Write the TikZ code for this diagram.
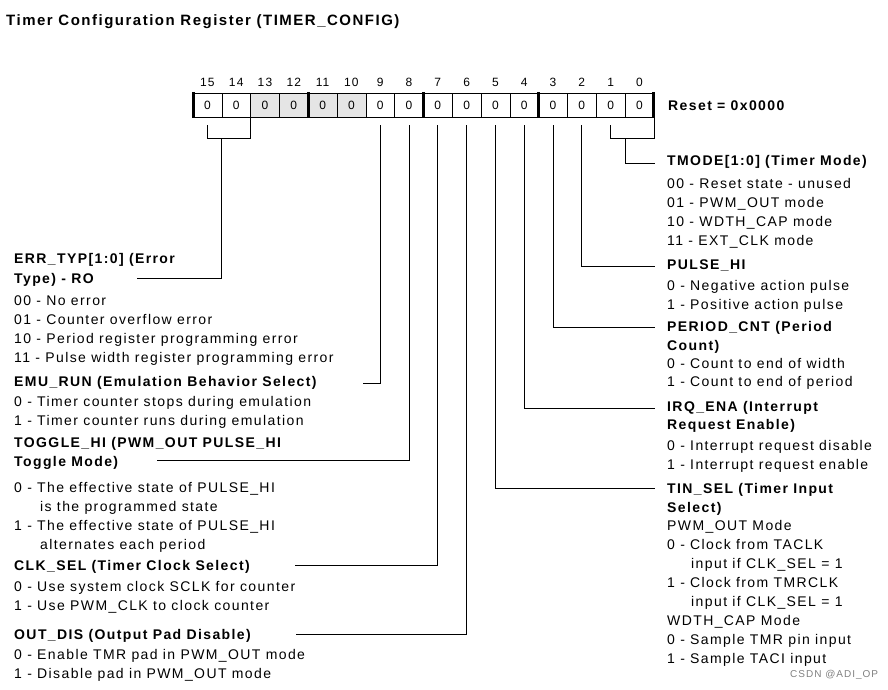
\documentclass[tikz,border=0pt]{standalone}
\usepackage{fontspec}
\setmainfont{Liberation Sans}[LetterSpace=10]
\usetikzlibrary{positioning}
\begin{document}
\begin{tikzpicture}[
    x=1pt, y=-1pt,
    cell/.style={draw, minimum width=28.8pt, minimum height=24pt, inner sep=0pt, font=\fontsize{12}{12}\selectfont},
    bitno/.style={font=\fontsize{12}{12}\selectfont},
    txt/.style={anchor=base west, inner sep=0pt, font=\fontsize{14}{14}\selectfont},
    head/.style={txt, font=\fontsize{14}{14}\selectfont\bfseries},
    lead/.style={line width=0.7pt}
    ]
    \useasboundingbox (0,0) rectangle (888,689);
    \node[head, font=\fontsize{15}{15}\selectfont\bfseries] (title) at (6,25) {Timer Configuration Register (TIMER\_CONFIG)};

    % register cells
    \foreach \k in {0,...,15}{
      \pgfmathtruncatemacro\b{15-\k}
      \ifnum\b<14 \ifnum\b>9 \def\fillc{gray!20}\else\def\fillc{white}\fi\else\def\fillc{white}\fi
      \node[cell, fill=\fillc] (b\b) at (207.4+\k*28.8,105) {0};
      \node[bitno] (n\b) at (207.4+\k*28.8,82) {\b};
    }
    \foreach \k in {0,4,8,12,16}
      \draw[line width=3pt] (193+\k*28.8,92) -- (193+\k*28.8,118);
    \node[head] (reset) at (668,110) {Reset = 0x0000};

    % brackets
    \draw[lead] (b15.south) ++(0,8) -- ++(0,13) -| ([yshift=8pt]b14.south east) -- ++(0,-13);
    \draw[lead] (b1.south) ++(0,8) -- ++(0,13) -| ([yshift=8pt]b0.south east) -- ++(0,-13);

    % leader end points
    \coordinate (errend) at (137,278);
    \coordinate (emuend) at (363,383);
    \coordinate (togend) at (157,460);
    \coordinate (clkend) at (295,565);
    \coordinate (outend) at (296,634);
    \coordinate (tmodeend) at (655,163);
    \coordinate (pulseend) at (655,266);
    \coordinate (perend) at (655,327);
    \coordinate (irqend) at (655,408);
    \coordinate (tinend) at (655,488);

    \draw[lead] (b15.south) ++(14.4,21) |- (errend);
    \draw[lead] (b1.south) ++(14.4,21) |- (tmodeend);
    \draw[lead] (b9.south) ++(0,8) |- (emuend);
    \draw[lead] (b8.south) ++(0,8) |- (togend);
    \draw[lead] (b7.south) ++(0,8) |- (clkend);
    \draw[lead] (b6.south) ++(0,8) |- (outend);
    \draw[lead] (b5.south) ++(0,8) |- (tinend);
    \draw[lead] (b4.south) ++(0,8) |- (irqend);
    \draw[lead] (b3.south) ++(0,8) |- (perend);
    \draw[lead] (b2.south) ++(0,8) |- (pulseend);

    % left column
    \foreach \y/\t in {263/ERR\_TYP[1:0] (Error, 283/Type) - RO, 386/EMU\_RUN (Emulation Behavior Select),
        447/TOGGLE\_HI (PWM\_OUT PULSE\_HI, 466/Toggle Mode), 570/CLK\_SEL (Timer Clock Select),
        639/OUT\_DIS (Output Pad Disable)}
      \node[head] at (14,\y) {\t};
    \foreach \y/\t in {305/00 - No error, 324/01 - Counter overflow error,
        343/10 - Period register programming error, 362/11 - Pulse width register programming error,
        406/0 - Timer counter stops during emulation, 425/1 - Timer counter runs during emulation,
        492/0 - The effective state of PULSE\_HI, 530/1 - The effective state of PULSE\_HI,
        591/0 - Use system clock SCLK for counter, 610/1 - Use PWM\_CLK to clock counter,
        659/0 - Enable TMR pad in PWM\_OUT mode, 678/1 - Disable pad in PWM\_OUT mode}
      \node[txt] at (14,\y) {\t};
    \foreach \y/\t in {511/is the programmed state, 549/alternates each period}
      \node[txt] at (40,\y) {\t};

    % right column
    \foreach \y/\t in {165/TMODE[1:0] (Timer Mode), 269/PULSE\_HI, 331/PERIOD\_CNT (Period, 350/Count),
        411/IRQ\_ENA (Interrupt, 429/Request Enable), 493/TIN\_SEL (Timer Input, 512/Select)}
      \node[head] at (667,\y) {\t};
    \foreach \y/\t in {188/00 - Reset state - unused, 207/01 - PWM\_OUT mode, 226/10 - WDTH\_CAP mode,
        245/11 - EXT\_CLK mode, 290/0 - Negative action pulse, 309/1 - Positive action pulse,
        368/0 - Count to end of width, 386/1 - Count to end of period,
        450/0 - Interrupt request disable, 469/1 - Interrupt request enable,
        530/PWM\_OUT Mode, 549/0 - Clock from TACLK, 587/1 - Clock from TMRCLK,
        625/WDTH\_CAP Mode, 644/0 - Sample TMR pin input, 663/1 - Sample TACI input}
      \node[txt] at (667,\y) {\t};
    \foreach \y/\t in {568/input if CLK\_SEL = 1, 606/input if CLK\_SEL = 1}
      \node[txt] at (691,\y) {\t};

    \node[txt, font=\fontsize{10}{10}\selectfont, text=gray] (mark) at (790,677) {CSDN @ADI\_OP};
\end{tikzpicture}
\end{document}
